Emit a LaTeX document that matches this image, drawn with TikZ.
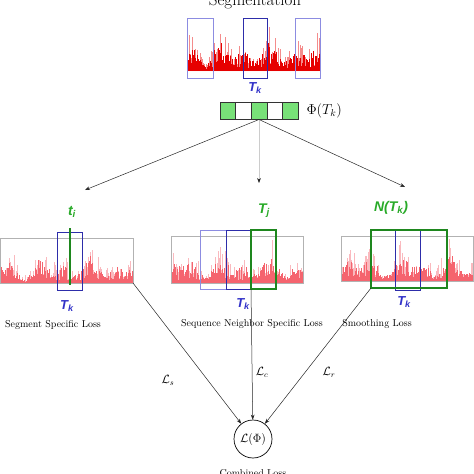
\documentclass[tikz,border=0pt]{standalone}
\usepackage{fontspec}
\usepackage{amsmath,amssymb}
\usepackage{tikz}
\usetikzlibrary{positioning,arrows.meta,calc}
\newfontfamily\lblfont{Liberation Sans}
\definecolor{segblue}{RGB}{45,45,170}
\definecolor{ghostblue}{RGB}{140,140,225}
\definecolor{lblblue}{RGB}{50,50,200}
\definecolor{nbgreen}{RGB}{30,135,30}
\definecolor{lblgreen}{RGB}{40,170,40}
\definecolor{cellgreen}{RGB}{120,225,120}
\definecolor{sigred}{RGB}{230,0,0}
\definecolor{sigpink}{RGB}{245,100,110}

% spiky signal: x0, x1, baseline, max height, tall colour, short colour, seed
\newcommand{\drawsignal}[7]{%
  \pgfmathsetseed{#7}
  \foreach \xx in {#1,...,#2}{
    \pgfmathsetmacro{\ra}{rnd}
    \pgfmathsetmacro{\rb}{rnd}
    \pgfmathsetmacro{\env}{0.6+0.4*sin(\xx*11)*sin(\xx*3)}
    \pgfmathsetmacro{\hh}{#4*(0.15+0.85*\ra*\ra)*\env}
    \pgfmathsetmacro{\hb}{#4*(0.12+0.5*\rb)*\env}
    \draw[#5, line width=0.6pt] (\xx,#3) -- ++(0,-\hh);
    \draw[#6, line width=0.8pt] (\xx+0.5,#3) -- ++(0,-\hb);
  }%
}

\begin{document}
\begin{tikzpicture}[
    x=1pt, y=-1pt, >={Stealth[length=5pt]},
    frame/.style={draw=gray!60, line width=0.6pt, inner sep=0pt, outer sep=0pt},
    segbox/.style={draw=segblue, line width=0.8pt, inner sep=0pt, outer sep=0pt},
    ghostbox/.style={draw=ghostblue, line width=0.7pt, inner sep=0pt, outer sep=0pt},
    nbbox/.style={draw=nbgreen, line width=1.5pt, inner sep=0pt, outer sep=0pt},
    cell/.style={draw=black!80, line width=0.6pt, minimum width=15.6pt,
                 minimum height=17pt, inner sep=0pt, outer sep=0pt},
    blabel/.style={font=\lblfont\bfseries\itshape\fontsize{13}{15}\selectfont, text=lblblue},
    glabel/.style={font=\lblfont\bfseries\itshape\fontsize{14}{16}\selectfont, text=lblgreen},
    caption/.style={font=\fontsize{10}{12}\selectfont},
    flow/.style={-{Stealth[length=5pt, color=black!85]}, black!85, line width=0.5pt}]
  \useasboundingbox (0,0) rectangle (474,474);

  % top: segmentation
  \node[anchor=base, font=\fontsize{17}{20}\selectfont] (title) at (255,5) {Segmentation};
  \drawsignal{188}{319}{71}{50}{sigred!45}{sigred}{3}
  \node[ghostbox, minimum width=26pt, minimum height=60pt] (segA) at (200,48) {};
  \node[segbox, minimum width=24pt, minimum height=60pt] (segB) at (255,48) {};
  \node[ghostbox, minimum width=25pt, minimum height=60pt] (segC) at (307.5,48) {};
  \node[blabel] (tktop) at (255,88) {T\textsubscript{k}};

  % feature vector
  \foreach \i/\f in {1/cellgreen, 2/white, 3/cellgreen, 4/white, 5/cellgreen}
    \node[cell, fill=\f] (cell\i) at (212.2+15.6*\i,111) {};
  \node[right=5pt of cell5, font=\fontsize{14}{16}\selectfont] (philbl) {$\Phi(T_k)$};

  \coordinate (tosegment) at (85,190);
  \coordinate (toneighbor) at (259,183);
  \coordinate (tosmooth) at (405,187);
  \draw[flow] (cell3.south) -- (tosegment);
  \draw[flow, draw=gray!40] (cell3.south) -- (toneighbor);
  \draw[flow] (cell3.south) -- (tosmooth);

  % segment specific
  \drawsignal{1}{132}{283}{44}{sigpink!45}{sigpink}{11}
  \node[frame, minimum width=133pt, minimum height=45pt] (segframe) at (66.5,260.5) {};
  \node[segbox, minimum width=25pt, minimum height=58pt] (tkA) at (69.5,261) {};
  \draw[nbgreen, line width=1.4pt] (70,228) -- (70,285);
  \node[glabel] (tilbl) at (72,212) {t\textsubscript{i}};
  \node[blabel] (tkAlbl) at (67,306) {T\textsubscript{k}};
  \node[caption] (segcap) at (53,325) {Segment Specific Loss};

  % sequence neighbor
  \drawsignal{172}{302}{283}{45}{sigpink!45}{sigpink}{23}
  \node[frame, minimum width=132pt, minimum height=47pt] (nbframe) at (237,259.5) {};
  \node[ghostbox, minimum width=26pt, minimum height=59pt] (tkprev) at (213,259.5) {};
  \node[segbox, minimum width=25pt, minimum height=59pt] (tkB) at (238.5,259.5) {};
  \node[nbbox, minimum width=25pt, minimum height=59pt] (tjbox) at (263.5,259.5) {};
  \node[glabel] (tjlbl) at (264,211) {T\textsubscript{j}};
  \node[blabel] (tkBlbl) at (243,304) {T\textsubscript{k}};
  \node[caption] (nbcap) at (252,324) {Sequence Neighbor Specific Loss};

  % smoothing
  \drawsignal{342}{472}{281}{44}{sigpink!45}{sigpink}{37}
  \node[frame, minimum width=132pt, minimum height=45pt] (smframe) at (407,258.5) {};
  \node[segbox, minimum width=25pt, minimum height=60pt] (tkC) at (407.5,260) {};
  \node[nbbox, minimum width=76pt, minimum height=58pt] (nbhbox) at (409,259) {};
  \node[glabel] (nlbl) at (391,208) {N(T\textsubscript{k})};
  \node[blabel] (tkClbl) at (404,302) {T\textsubscript{k}};
  \node[caption] (smcap) at (377,324) {Smoothing Loss};

  % combined loss
  \node[circle, draw, line width=0.7pt, minimum size=38pt, inner sep=0pt,
        font=\fontsize{12}{14}\selectfont] (loss) at (253,439) {$\mathcal{L}(\Phi)$};
  \node[caption, anchor=base] (combined) at (253,476) {Combined Loss};
  \draw[flow] (segframe.south east) -- (loss);
  \draw[flow] (tjbox.south west) -- (loss);
  \draw[flow] (nbhbox.south west) -- (loss);
  \node[font=\fontsize{12}{14}\selectfont] (lslbl) at (168,380) {$\mathcal{L}_s$};
  \node[font=\fontsize{12}{14}\selectfont] (lclbl) at (262,372) {$\mathcal{L}_c$};
  \node[font=\fontsize{12}{14}\selectfont] (lrlbl) at (329,372) {$\mathcal{L}_r$};
\end{tikzpicture}
\end{document}
